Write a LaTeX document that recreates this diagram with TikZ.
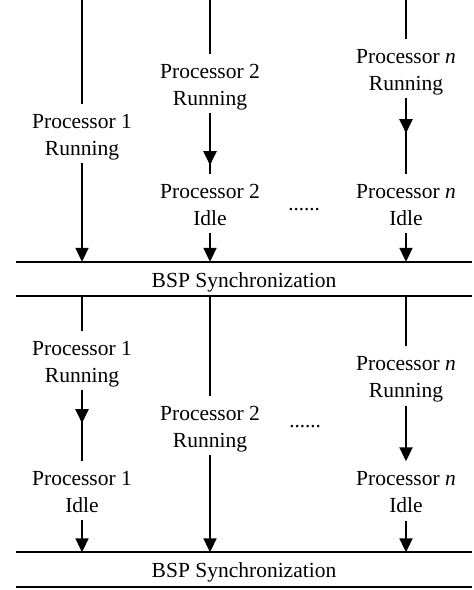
\documentclass[tikz,border=0pt]{standalone}
\usepackage{fontspec}
\setmainfont{Liberation Serif}
\usetikzlibrary{arrows.meta,decorations.markings}
\newcommand\tstrut{\rule{0pt}{24pt}}
\newcommand\bstrut{\rule[-8pt]{0pt}{8pt}}
\begin{document}
\begin{tikzpicture}[x=1pt,y=-1pt,
  lbl/.style={font=\fontsize{21.5}{27}\selectfont, align=center, inner sep=0pt},
  flow/.style={line width=2pt},
  tip/.style={-{Triangle[length=14pt,width=13pt]}},
  midtip/.style={postaction={decorate},decoration={markings,mark=at position #1 with {\arrow{Triangle[length=14pt,width=13pt]}}}},
  band/.style={minimum width=456pt, minimum height=34pt, inner sep=0pt, font=\fontsize{21.5}{27}\selectfont, text height=16.5pt, text depth=0pt},
  dotsnode/.style={font=\fontsize{21}{27}\selectfont, inner sep=0pt, anchor=base}
]
\useasboundingbox (0,0) rectangle (474,590);
% synchronization bands
\node[band] (sync1) at (244,279) {BSP Synchronization};
\node[band] (sync2) at (244,569.5) {BSP Synchronization};
\foreach \s in {sync1,sync2}{
  \draw[flow] (\s.north west) -- (\s.north east);
  \draw[flow] (\s.south west) -- (\s.south east);
}
% top superstep
\coordinate (t1) at (82,0);
\coordinate (t2) at (210,0);
\coordinate (tn) at (406,0);
\node[lbl] (p1r) at (82,133.5) {\tstrut Processor 1\\Running\bstrut};
\node[lbl] (p2r) at (210,83.5) {\tstrut Processor 2\\Running\bstrut};
\node[lbl] (pnr) at (406,68.5) {\tstrut Processor \textit{n}\\Running\bstrut};
\node[lbl] (p2i) at (210,203.5) {\tstrut Processor 2\\Idle\bstrut};
\node[lbl] (pni) at (406,203.5) {\tstrut Processor \textit{n}\\Idle\bstrut};
\node[dotsnode] (dots1) at (304,210) {......};
\draw[flow] (t1) -- (p1r.north);
\draw[flow,tip] (p1r.south) -- (p1r.south |- sync1.north);
\draw[flow] (t2) -- (p2r.north);
\draw[flow,midtip=52pt] (p2r.south) -- (p2i.north);
\draw[flow,tip] (p2i.south) -- (p2i.south |- sync1.north);
\draw[flow] (tn) -- (pnr.north);
\draw[flow,midtip=35pt] (pnr.south) -- (pni.north);
\draw[flow,tip] (pni.south) -- (pni.south |- sync1.north);
% bottom superstep
\node[lbl] (q1r) at (82,360.5) {\tstrut Processor 1\\Running\bstrut};
\node[lbl] (q2r) at (210,425.5) {\tstrut Processor 2\\Running\bstrut};
\node[lbl] (qnr) at (406,376) {\tstrut Processor \textit{n}\\Running\bstrut};
\node[lbl] (q1i) at (82,490.5) {\tstrut Processor 1\\Idle\bstrut};
\node[lbl] (qni) at (406,491) {\tstrut Processor \textit{n}\\Idle\bstrut};
\node[dotsnode] (dots2) at (305,427) {......};
\draw[flow] (sync1.south -| q1r) -- (q1r.north);
\draw[flow,midtip=33pt] (q1r.south) -- (q1i.north);
\draw[flow,tip] (q1i.south) -- (q1i.south |- sync2.north);
\draw[flow] (sync1.south -| q2r) -- (q2r.north);
\draw[flow,tip] (q2r.south) -- (q2r.south |- sync2.north);
\draw[flow] (sync1.south -| qnr) -- (qnr.north);
\draw[flow,tip] (qnr.south) -- (qni.north);
\draw[flow,tip] (qni.south) -- (qni.south |- sync2.north);
\end{tikzpicture}
\end{document}
